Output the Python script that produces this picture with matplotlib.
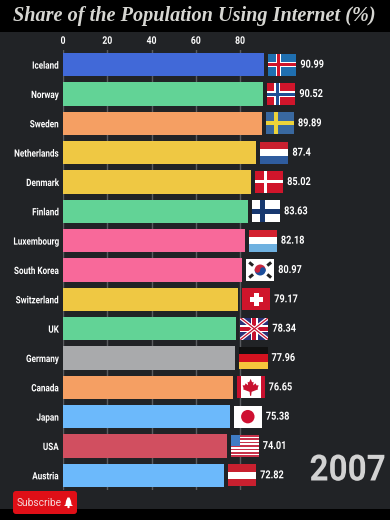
import matplotlib
matplotlib.use("Agg")
import matplotlib.pyplot as plt
import matplotlib.patches as patches
from matplotlib.patheffects import AbstractPathEffect
from matplotlib.transforms import Affine2D
import numpy as np

countries = ["Iceland", "Norway", "Sweden", "Netherlands", "Denmark", "Finland", "Luxembourg",
             "South Korea", "Switzerland", "UK", "Germany", "Canada", "Japan", "USA", "Austria"]
values = [90.99, 90.52, 89.89, 87.4, 85.02, 83.63, 82.18, 80.97, 79.17, 78.34, 77.96, 76.65, 75.38, 74.01, 72.82]
bar_colors = ["#4169d8", "#62d396", "#f59f63", "#efc843", "#efc843", "#62d396", "#f8699a", "#f8699a",
              "#efc843", "#62d396", "#a9aaac", "#f59f63", "#6cb9fb", "#d14f60", "#6cb9fb"]
ticks = [0, 20, 40, 60, 80]
year = "2007"
title = "Share of the Population Using Internet (%)"

BG = "#212326"
W, H = 28, 22


# no condensed font is installed, so narrow the glyphs when they are drawn
class Squeeze(AbstractPathEffect):
    def __init__(self, sx, anchor="left"):
        super().__init__()
        self.sx = sx
        self.anchor = anchor

    def draw_path(self, renderer, gc, tpath, affine, rgbFace=None):
        box = tpath.get_extents()
        px = {"left": 0, "right": box.x1, "center": (box.x0 + box.x1) / 2}[self.anchor]
        squeeze = Affine2D().translate(-px, 0).scale(self.sx, 1).translate(px, 0)
        renderer.draw_path(gc, tpath, squeeze + affine, rgbFace)


def stripes_h(a, cols):
    h = H / len(cols)
    for i, c in enumerate(cols):
        a.add_patch(patches.Rectangle((0, i * h), W, h + 0.1, fc=c, lw=0))


def nordic(a, bg, outer, inner, wo=6, wi=3):
    a.add_patch(patches.Rectangle((0, 0), W, H, fc=bg, lw=0))
    cx = 10
    if outer:
        a.add_patch(patches.Rectangle((cx - wo / 2, 0), wo, H, fc=outer, lw=0))
        a.add_patch(patches.Rectangle((0, H / 2 - wo / 2), W, wo, fc=outer, lw=0))
    a.add_patch(patches.Rectangle((cx - wi / 2, 0), wi, H, fc=inner, lw=0))
    a.add_patch(patches.Rectangle((0, H / 2 - wi / 2), W, wi, fc=inner, lw=0))


def draw_uk(a):
    a.add_patch(patches.Rectangle((0, 0), W, H, fc="#2a2f78", lw=0))
    a.plot([0, W], [0, H], color="white", lw=2.6, solid_capstyle="butt")
    a.plot([0, W], [H, 0], color="white", lw=2.6, solid_capstyle="butt")
    a.plot([0, W], [0, H], color="#c8102e", lw=0.9, solid_capstyle="butt")
    a.plot([0, W], [H, 0], color="#c8102e", lw=0.9, solid_capstyle="butt")
    a.add_patch(patches.Rectangle((10.5, 0), 7, H, fc="white", lw=0))
    a.add_patch(patches.Rectangle((0, 7.5), W, 7, fc="white", lw=0))
    a.add_patch(patches.Rectangle((12, 0), 4, H, fc="#c8102e", lw=0))
    a.add_patch(patches.Rectangle((0, 9), W, 4, fc="#c8102e", lw=0))


def draw_korea(a):
    a.add_patch(patches.Rectangle((0, 0), W, H, fc="white", lw=0))
    a.add_patch(patches.Wedge((14, 11), 5.5, 180, 360, fc="#c8253c", lw=0))
    a.add_patch(patches.Wedge((14, 11), 5.5, 0, 180, fc="#1c4f9c", lw=0))
    a.add_patch(patches.Circle((11.3, 11), 2.75, fc="#c8253c", lw=0))
    a.add_patch(patches.Circle((16.7, 11), 2.75, fc="#1c4f9c", lw=0))
    for x, y, ang in [(5, 5, 40), (23, 5, -40), (5, 17, -40), (23, 17, 40)]:
        a.add_patch(patches.Rectangle((x - 2.5, y - 1.5), 5, 3, angle=ang, rotation_point="center",
                                      fc="#222222", lw=0))


def draw_swiss(a):
    a.add_patch(patches.Rectangle((0, 0), W, H, fc="#d0152b", lw=0))
    a.add_patch(patches.Rectangle((11.5, 4.5), 5, 13, fc="white", lw=0))
    a.add_patch(patches.Rectangle((7.5, 8.5), 13, 5, fc="white", lw=0))


def draw_canada(a):
    a.add_patch(patches.Rectangle((0, 0), W, H, fc="white", lw=0))
    a.add_patch(patches.Rectangle((0, 0), 4, H, fc="#c8102e", lw=0))
    a.add_patch(patches.Rectangle((24, 0), 4, H, fc="#c8102e", lw=0))
    leaf = [(14, 2.5), (15.5, 6), (17, 5.5), (16.5, 9), (19, 7), (19.8, 9), (22, 9), (21, 12), (21.5, 13),
            (15, 15.5), (14.5, 19.5), (13.5, 19.5), (13, 15.5), (6.5, 13), (7, 12), (6, 9), (8.2, 9),
            (9, 7), (11.5, 9), (11, 5.5), (12.5, 6)]
    a.add_patch(patches.Polygon(leaf, fc="#c8102e", lw=0))


def draw_japan(a):
    a.add_patch(patches.Rectangle((0, 0), W, H, fc="white", lw=0))
    a.add_patch(patches.Circle((14, 11), 6.7, fc="#cf1031", lw=0))


def draw_usa(a):
    stripes_h(a, ["#c8324a", "white"] * 6 + ["#c8324a"])
    a.add_patch(patches.Rectangle((0, 0), 9, 11, fc="#3f7cc4", lw=0))


def draw_flag(a, name):
    if name == "Iceland":
        nordic(a, "#1f6fb0", "white", "#d0152b", 5.5, 2.5)
    elif name == "Norway":
        nordic(a, "#d0152b", "white", "#1f4f95", 6, 3)
    elif name == "Sweden":
        nordic(a, "#39689f", None, "#ecd33a", 4, 4)
    elif name == "Netherlands":
        stripes_h(a, ["#c8202f", "white", "#2f5c9e"])
    elif name == "Denmark":
        nordic(a, "#d0152b", None, "white", 3, 3)
    elif name == "Finland":
        nordic(a, "white", None, "#17386f", 5, 5)
    elif name == "Luxembourg":
        stripes_h(a, ["#d3202f", "white", "#6fb1e0"])
    elif name == "South Korea":
        draw_korea(a)
    elif name == "Switzerland":
        draw_swiss(a)
    elif name == "UK":
        draw_uk(a)
    elif name == "Germany":
        stripes_h(a, ["#111111", "#d3121f", "#f5c53c"])
    elif name == "Canada":
        draw_canada(a)
    elif name == "Japan":
        draw_japan(a)
    elif name == "USA":
        draw_usa(a)
    elif name == "Austria":
        stripes_h(a, ["#c8202f", "white", "#c8202f"])


fig = plt.figure(figsize=(3.9, 5.2), dpi=100, facecolor=BG)

# pixel overlay for the header, footer and button
deco = fig.add_axes([0, 0, 1, 1], zorder=0)
deco.set_xlim(0, 390)
deco.set_ylim(520, 0)
deco.axis("off")
deco.add_patch(patches.Rectangle((0, 0), 390, 32, fc="black", lw=0))
deco.add_patch(patches.Rectangle((0, 509), 390, 11, fc="black", lw=0))
deco.text(194, 16.5, title, color="#d6d6d2", ha="center", va="center", fontsize=14.6,
          family="Liberation Serif", style="italic", fontweight="bold")

# main chart, 0 sits at x=63 and the bars run from y=50 to y=490
ax = fig.add_axes([63 / 390, 30 / 520, 327 / 390, 440 / 520], zorder=1)
ax.patch.set_alpha(0)
positions = np.arange(len(countries))[::-1]
ax.barh(positions, values, height=0.8, color=bar_colors, zorder=2)
ax.set_xlim(0, 327 / 2.2125)
ax.set_ylim(-0.5, 14.5)
ax.set_xticks(ticks)
ax.set_yticks(positions, countries)
ax.xaxis.tick_top()
ax.tick_params(axis="both", length=0, colors="white")
ax.tick_params(axis="x", pad=3)
ax.tick_params(axis="y", pad=3)
for lab in ax.get_xticklabels():
    lab.set_family("Roboto")
    lab.set_fontsize(7.6)
    lab.set_fontweight("bold")
    lab.set_path_effects([Squeeze(0.82, "center")])
for lab in ax.get_yticklabels():
    lab.set_family("Roboto")
    lab.set_fontsize(7.3)
    lab.set_fontweight("bold")
    lab.set_path_effects([Squeeze(0.8, "right")])
ax.grid(axis="x", color="#5a5c60", lw=1)
ax.set_axisbelow(True)
ax.grid(axis="y", visible=False)
for s in ax.spines.values():
    s.set_visible(False)

for name, v, p in zip(countries, values, positions):
    a = ax.inset_axes([v + 1.8, p - 0.375, 12.7, 0.75], transform=ax.transData, zorder=3)
    a.set_xlim(0, W)
    a.set_ylim(H, 0)
    a.axis("off")
    draw_flag(a, name)
    t = ax.text(v + 16.3, p, str(v), color="white", va="center", ha="left", fontsize=8,
                fontweight="bold", family="Roboto", zorder=4)
    t.set_path_effects([Squeeze(0.82, "left")])

deco2 = fig.add_axes([0, 0, 1, 1], zorder=2)
deco2.set_xlim(0, 390)
deco2.set_ylim(520, 0)
deco2.axis("off")
t = deco2.text(386, 470.5, year, color="#d2d2d2", ha="right", va="center", fontsize=26,
               fontweight="bold", family="Roboto")
t.set_path_effects([Squeeze(0.92, "right")])
deco2.add_patch(patches.FancyBboxPatch((15, 493), 60, 19, boxstyle="round,pad=2,rounding_size=3",
                                       fc="#df0f17", ec="none"))
deco2.text(17, 502.5, "Subscribe", color="#f4d9d9", ha="left", va="center", fontsize=7.3, family="Roboto")
bell = [(67.5, 497.5), (69.5, 497.5), (71, 501), (71.5, 504.5), (73, 506), (64, 506), (65.5, 504.5), (66, 501)]
deco2.add_patch(patches.Polygon(bell, fc="white", lw=0))
deco2.add_patch(patches.Circle((68.5, 507), 1.2, fc="white", lw=0))

fig.savefig("out.png", dpi=100, facecolor=BG)
